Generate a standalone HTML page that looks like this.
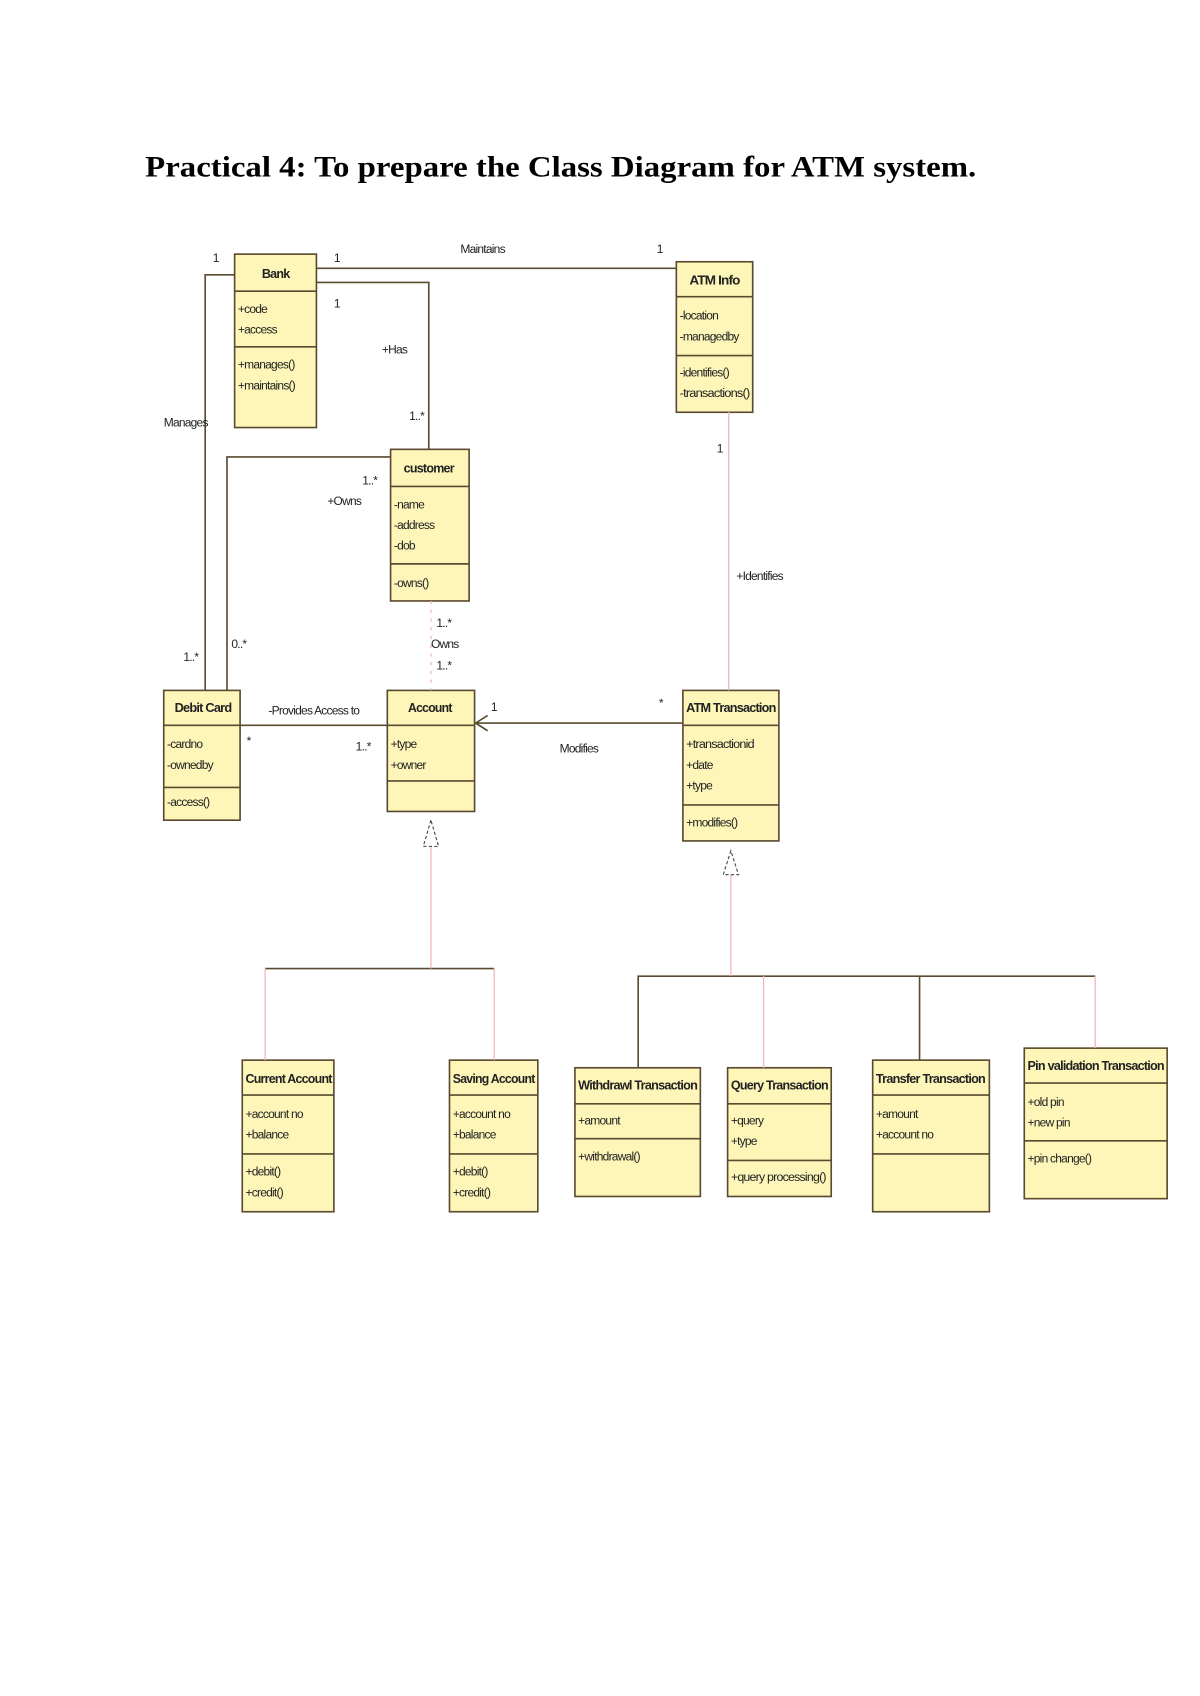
<!DOCTYPE html>
<html><head><meta charset="utf-8"><style>
body{margin:0;background:#fff}
svg{display:block}
text{font-family:"Liberation Sans",sans-serif;font-size:11px;letter-spacing:-0.7px;fill:#222}
.t{font-family:"Liberation Serif",serif;font-size:27px;font-weight:bold;fill:#000;letter-spacing:0}
.h{font-weight:bold;font-size:11.5px}
</style></head><body>
<svg width="1200" height="1696" viewBox="0 0 1100 1555" xmlns="http://www.w3.org/2000/svg">
<text class="t" x="133" y="162" textLength="762" lengthAdjust="spacingAndGlyphs">Practical 4: To prepare the Class Diagram for ATM system.</text>
<g fill="#fdf6b8" stroke="#5a4a30" stroke-width="1.5">
<rect x="215" y="233" width="75" height="159"/>
<rect x="620" y="240" width="70" height="138"/>
<rect x="358" y="412" width="72" height="139"/>
<rect x="150" y="633" width="70" height="119"/>
<rect x="355" y="633" width="80" height="111"/>
<rect x="626" y="633" width="88" height="138"/>
<rect x="222" y="972" width="84" height="139"/>
<rect x="412" y="972" width="81" height="139"/>
<rect x="527" y="979" width="115" height="118"/>
<rect x="667" y="979" width="95" height="118"/>
<rect x="800" y="972" width="107" height="139"/>
<rect x="939" y="961" width="131" height="138"/>
</g>
<g stroke="#5a4a30" stroke-width="1.5" fill="none">
<path d="M215 267H290M215 318H290"/>
<path d="M620 272H690M620 326H690"/>
<path d="M358 446H430M358 517H430"/>
<path d="M150 665H220M150 722H220"/>
<path d="M355 665H435M355 716H435"/>
<path d="M626 665H714M626 738H714"/>
<path d="M222 1004H306M222 1058H306"/>
<path d="M412 1004H493M412 1058H493"/>
<path d="M527 1012H642M527 1044H642"/>
<path d="M667 1012H762M667 1064H762"/>
<path d="M800 1004H907M800 1058H907"/>
<path d="M939 993H1070M939 1046H1070"/>
<path d="M290 246H620"/>
<path d="M290 259H393V412"/>
<path d="M215 252H188V633"/>
<path d="M358 419H208V633"/>
<path d="M220 665H355"/>
<path d="M626 663H435M447 656L436 663L447 670"/>
<path d="M243 888H453"/>
<path d="M585 979V895H1004M843 895V972"/>
</g>
<g stroke="#f0b8b8" stroke-width="1.2" fill="none">
<path d="M668 378V633"/>
<path d="M395 551V633" stroke-dasharray="3 5"/>
<path d="M395 776V888M243 888V972M453 888V972"/>
<path d="M670 802V895M700 895V979M1004 895V961"/>
</g>
<g stroke="#444" stroke-width="1" fill="none" stroke-dasharray="3 2">
<path d="M395 752L388 776H402Z"/>
<path d="M670 780L663 802H677Z"/>
</g>
<text class="h" x="240" y="255">Bank</text>
<text x="218" y="287">+code</text><text x="218" y="306">+access</text>
<text x="218" y="338">+manages()</text><text x="218" y="357">+maintains()</text>
<text class="h" x="632" y="261" textLength="46" lengthAdjust="spacingAndGlyphs">ATM Info</text>
<text x="623" y="293">-location</text><text x="623" y="312">-managedby</text>
<text x="623" y="345">-identifies()</text><text x="623" y="364" textLength="64" lengthAdjust="spacingAndGlyphs">-transactions()</text>
<text class="h" x="370" y="433" textLength="46" lengthAdjust="spacingAndGlyphs">customer</text>
<text x="361" y="466">-name</text><text x="361" y="485">-address</text><text x="361" y="504">-dob</text>
<text x="361" y="538">-owns()</text>
<text class="h" x="160" y="653" textLength="52" lengthAdjust="spacingAndGlyphs">Debit Card</text>
<text x="153" y="686">-cardno</text><text x="153" y="705">-ownedby</text>
<text x="153" y="739">-access()</text>
<text class="h" x="374" y="653" textLength="40" lengthAdjust="spacingAndGlyphs">Account</text>
<text x="358" y="686">+type</text><text x="358" y="705">+owner</text>
<text class="h" x="629" y="653" textLength="82" lengthAdjust="spacingAndGlyphs">ATM Transaction</text>
<text x="629" y="686" textLength="62" lengthAdjust="spacingAndGlyphs">+transactionid</text><text x="629" y="705">+date</text><text x="629" y="724">+type</text>
<text x="629" y="758">+modifies()</text>
<text class="h" x="225" y="993" textLength="79" lengthAdjust="spacingAndGlyphs">Current Account</text>
<text x="225" y="1025">+account no</text><text x="225" y="1044">+balance</text>
<text x="225" y="1078">+debit()</text><text x="225" y="1097">+credit()</text>
<text class="h" x="415" y="993" textLength="75" lengthAdjust="spacingAndGlyphs">Saving Account</text>
<text x="415" y="1025">+account no</text><text x="415" y="1044">+balance</text>
<text x="415" y="1078">+debit()</text><text x="415" y="1097">+credit()</text>
<text class="h" x="530" y="999" textLength="109" lengthAdjust="spacingAndGlyphs">Withdrawl Transaction</text>
<text x="530" y="1031">+amount</text><text x="530" y="1064">+withdrawal()</text>
<text class="h" x="670" y="999" textLength="89" lengthAdjust="spacingAndGlyphs">Query Transaction</text>
<text x="670" y="1031">+query</text><text x="670" y="1050">+type</text>
<text x="670" y="1083" textLength="87" lengthAdjust="spacingAndGlyphs">+query processing()</text>
<text class="h" x="803" y="993" textLength="100" lengthAdjust="spacingAndGlyphs">Transfer Transaction</text>
<text x="803" y="1025">+amount</text><text x="803" y="1044">+account no</text>
<text class="h" x="942" y="981" textLength="125" lengthAdjust="spacingAndGlyphs">Pin validation Transaction</text>
<text x="942" y="1014">+old pin</text><text x="942" y="1033">+new pin</text>
<text x="942" y="1066">+pin change()</text>
<text x="422" y="232">Maintains</text>
<text x="195" y="240">1</text><text x="306" y="240">1</text><text x="602" y="232">1</text>
<text x="306" y="282">1</text>
<text x="350" y="324">+Has</text>
<text x="375" y="385">1..*</text>
<text x="150" y="391">Manages</text>
<text x="332" y="444">1..*</text>
<text x="300" y="463">+Owns</text>
<text x="675" y="532">+Identifies</text>
<text x="657" y="415">1</text>
<text x="400" y="575">1..*</text>
<text x="395" y="594">Owns</text>
<text x="400" y="614">1..*</text>
<text x="168" y="606">1..*</text><text x="212" y="594">0..*</text>
<text x="246" y="655">-Provides Access to</text>
<text x="226" y="683">*</text><text x="326" y="688">1..*</text>
<text x="450" y="652">1</text><text x="604" y="648">*</text>
<text x="513" y="690">Modifies</text>
</svg>
</body></html>
